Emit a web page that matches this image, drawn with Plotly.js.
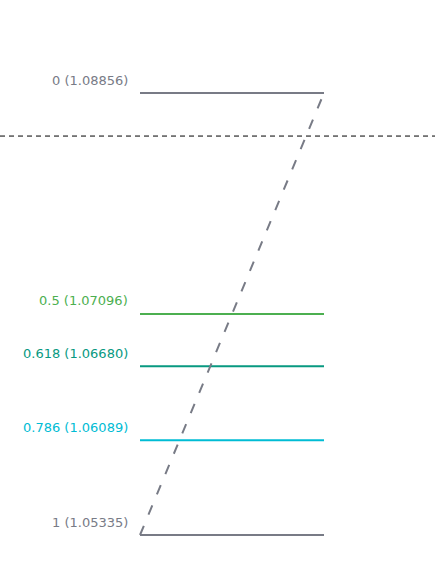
<!DOCTYPE html>
<html>
<head>
<meta charset="utf-8">
<script src="https://cdn.plot.ly/plotly-3.0.1.min.js"></script>
<style>
  html, body { margin: 0; padding: 0; background: #fff; }
  #chart { width: 435px; height: 571px; }
</style>
</head>
<body>
<div id="chart"></div>
<script>
// fib retracement levels
const fibRatios = [0, 0.5, 0.618, 0.786, 1];
const fibPrices = [1.08856, 1.07096, 1.06680, 1.06089, 1.05335];
const fibColors = ["#787b86", "#4caf50", "#089981", "#00bcd4", "#787b86"];
const fibLabels = ["0 (1.08856)", "0.5 (1.07096)", "0.618 (1.06680)", "0.786 (1.06089)", "1 (1.05335)"];

// drawing anchors (bar index)
const startBar = 140;
const endBar = 324;
// trend line goes from the low (ratio 1) to the high (ratio 0)
const trendX = [startBar, endBar];
const trendY = [1.05335, 1.08856];

// horizontal price line
const hLinePrice = 1.08513;

let traces = [];
for (let i in fibPrices) {
  traces.push({
    x: [startBar, endBar],
    y: [fibPrices[i], fibPrices[i]],
    type: "scatter",
    mode: "lines",
    line: { color: fibColors[i], width: 2 },
    hoverinfo: "skip",
    showlegend: false
  });
}

traces.push({
  x: trendX,
  y: trendY,
  type: "scatter",
  mode: "lines",
  line: { color: "#787b86", width: 2, dash: "10px,12px" },
  hoverinfo: "skip",
  showlegend: false
});

traces.push({
  x: [0, 435],
  y: [hLinePrice, hLinePrice],
  type: "scatter",
  mode: "lines",
  line: { color: "#000000", width: 1, dash: "5px,4px" },
  hoverinfo: "skip",
  showlegend: false
});

let annotations = fibLabels.map(function(txt, i) {
  return {
    x: startBar - 10,
    y: fibPrices[i],
    xref: "x",
    yref: "y",
    text: txt,
    showarrow: false,
    xanchor: "right",
    yanchor: "middle",
    yshift: 13,
    font: { family: "DejaVu Sans", size: 13, color: fibColors[i] }
  };
});

let layout = {
  width: 435,
  height: 571,
  margin: { l: 0, r: 0, t: 0, b: 0 },
  paper_bgcolor: "#ffffff",
  plot_bgcolor: "#ffffff",
  showlegend: false,
  xaxis: { range: [0, 435], visible: false, fixedrange: true },
  yaxis: { range: [1.050482, 1.095969], visible: false, fixedrange: true },
  annotations: annotations
};

Plotly.newPlot("chart", traces, layout, { displayModeBar: false, staticPlot: true });
</script>
</body>
</html>
